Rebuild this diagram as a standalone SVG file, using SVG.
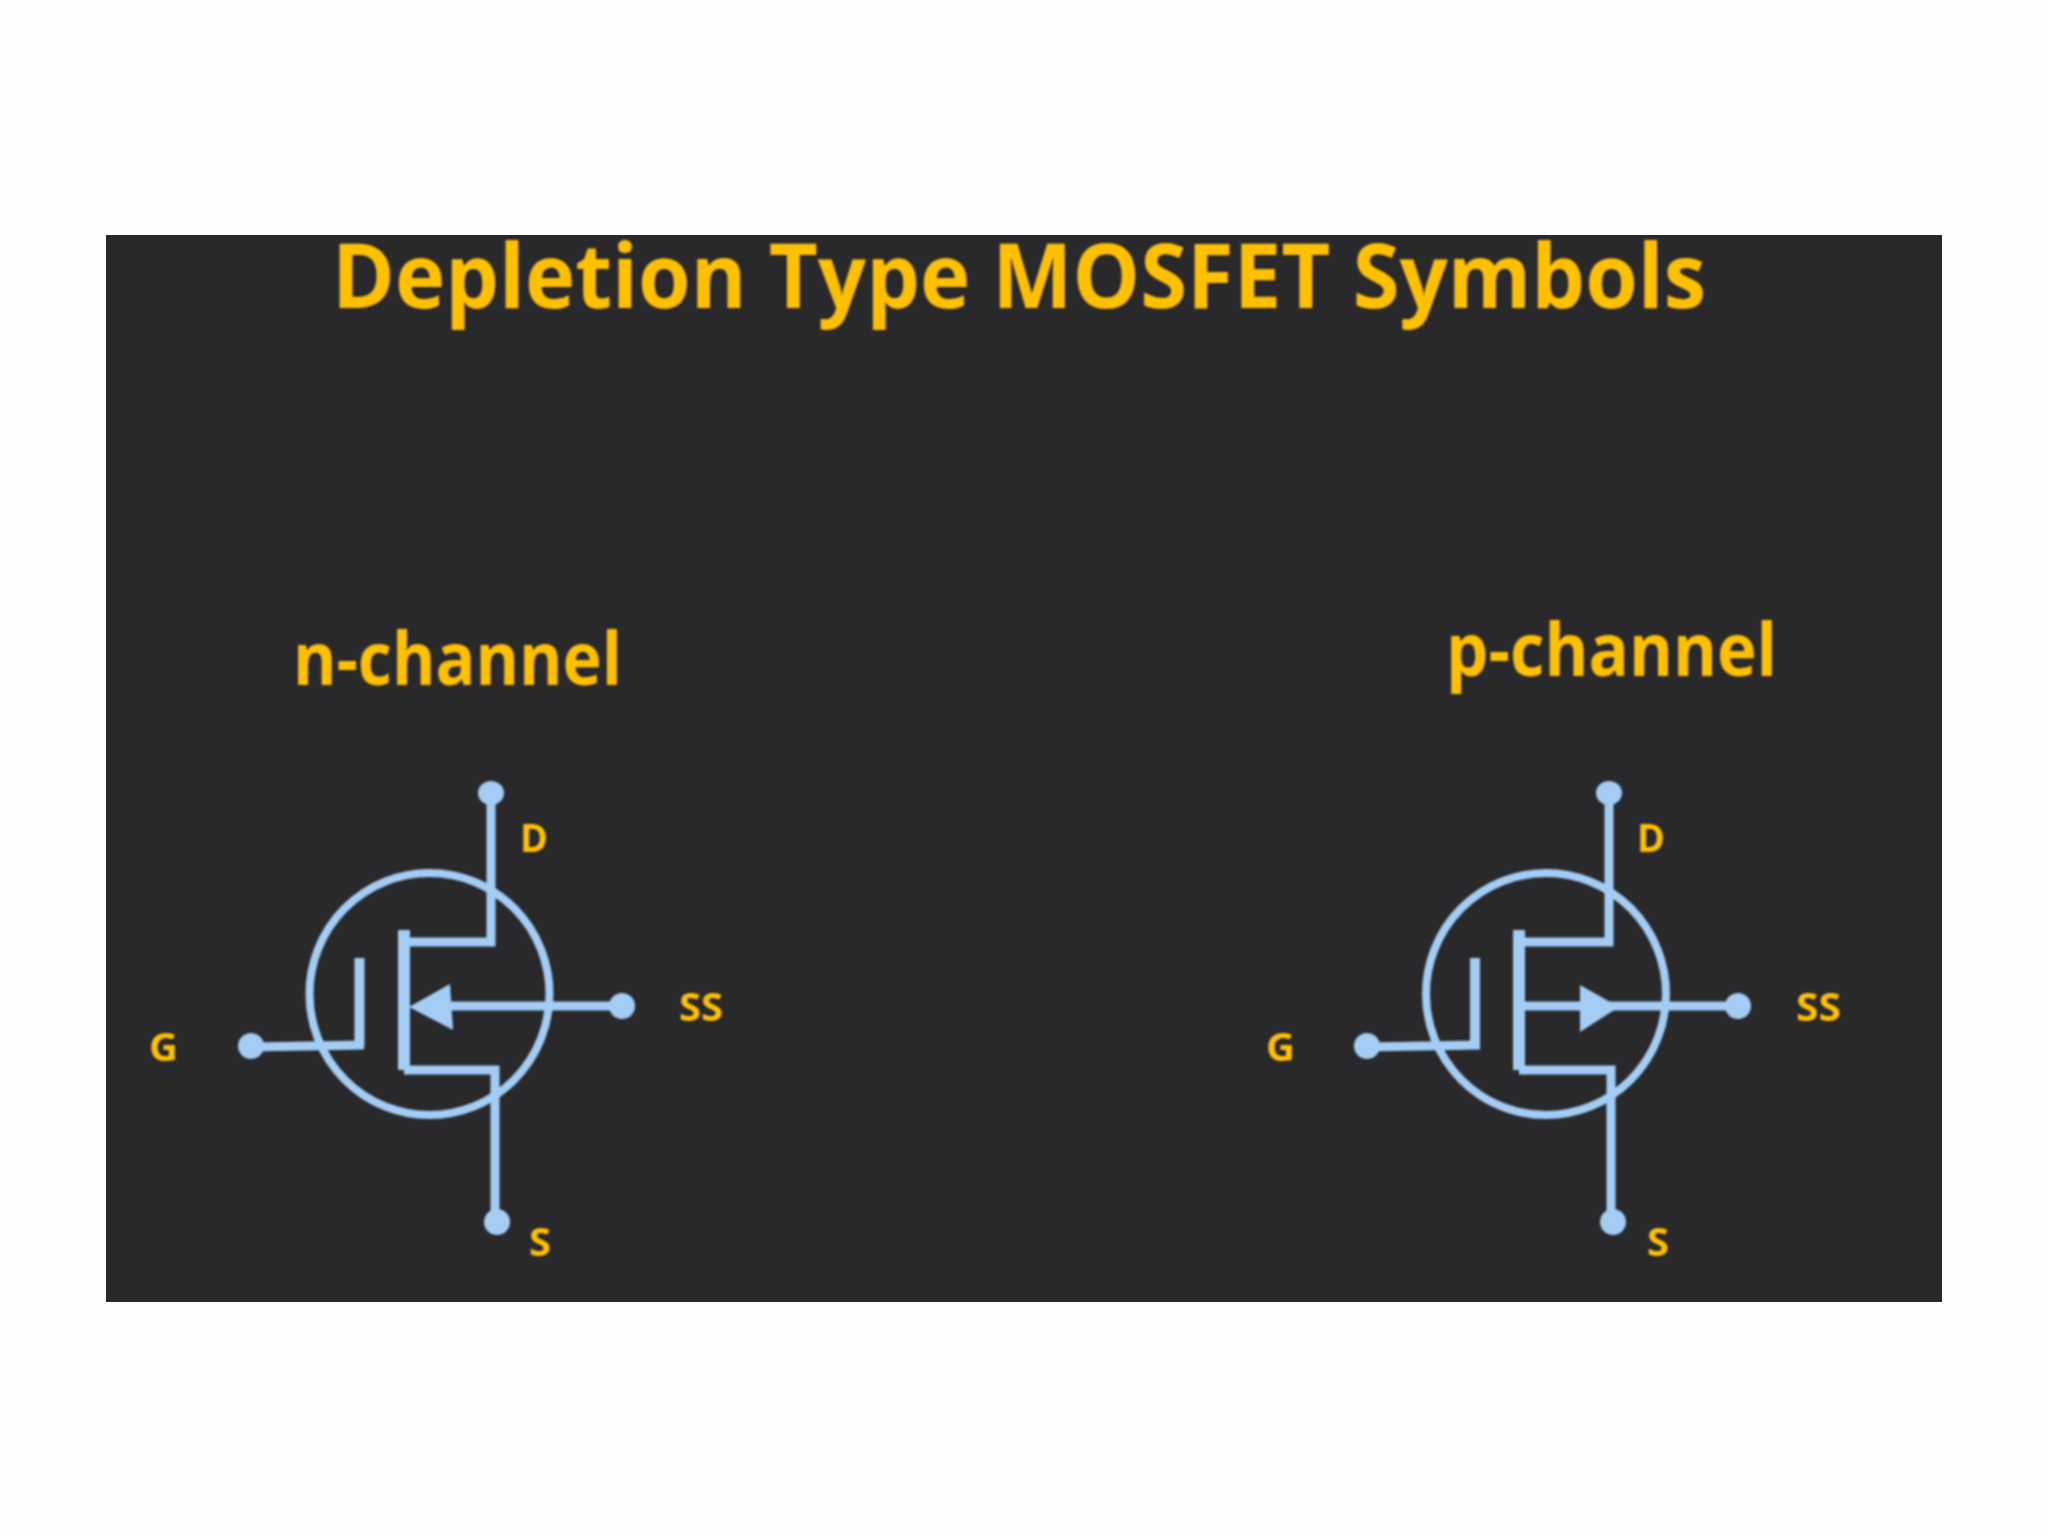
<svg xmlns="http://www.w3.org/2000/svg" width="2048" height="1536" viewBox="0 0 2048 1536">
<defs>
<filter id="soft" x="-5%" y="-5%" width="110%" height="110%"><feGaussianBlur stdDeviation="0.9"/></filter>
</defs>
<style>
text{font-family:"Open Sans","Liberation Sans",sans-serif;font-weight:700;fill:#FFC000}
.title{font-size:90px}
.sub{font-size:73px}
.pin{font-size:39px}
.w{fill:none;stroke:#A3CDF5;stroke-width:9;stroke-linejoin:miter}
.gate{fill:none;stroke:#A3CDF5;stroke-width:10}
.ch{fill:none;stroke:#A3CDF5;stroke-width:12}
.ring{fill:none;stroke:#A3CDF5;stroke-width:8}
.dot,.arrow{fill:#A3CDF5}
</style>
<rect width="2048" height="1536" fill="#FEFEFE"/>
<rect id="panel" x="106" y="235" width="1836" height="1067" fill="#29282A"/>
<g id="labels" filter="url(#soft)">
<text class="title" x="332" y="308" textLength="1374" lengthAdjust="spacingAndGlyphs">Depletion Type MOSFET Symbols</text>
<text class="sub" x="293" y="685" textLength="329" lengthAdjust="spacingAndGlyphs">n-channel</text>
<text class="sub" x="1446" y="676" textLength="331" lengthAdjust="spacingAndGlyphs">p-channel</text>
</g>
<g filter="url(#soft)">
<g id="n-channel-symbol">
<ellipse class="ring" cx="429.500" cy="994" rx="120" ry="121"/>
<path class="ch" d="M404 930V1070"/>
<path class="gate" d="M359.500 958V1046"/>
<path class="arrow" d="M409 1007L450 984L453 1030Z"/>
</g>
<g id="n-pins">
<ellipse id="n-D" class="dot" cx="491" cy="793" rx="13" ry="12"/>
<ellipse id="n-S" class="dot" cx="497" cy="1222" rx="13" ry="13"/>
<ellipse id="n-G" class="dot" cx="251" cy="1046" rx="13" ry="13"/>
<ellipse id="n-SS" class="dot" cx="622" cy="1006" rx="13" ry="13"/>
<text class="pin" x="520" y="852" textLength="28" lengthAdjust="spacingAndGlyphs">D</text>
<text class="pin" x="679" y="1021" textLength="44" lengthAdjust="spacingAndGlyphs">SS</text>
<text class="pin" x="149" y="1061" textLength="29" lengthAdjust="spacingAndGlyphs">G</text>
<text class="pin" x="529" y="1256" textLength="22" lengthAdjust="spacingAndGlyphs">S</text>
</g>
<g id="p-channel-symbol">
<ellipse class="ring" cx="1546" cy="994" rx="120" ry="121"/>
<path class="ch" d="M1519 930V1070"/>
<path class="gate" d="M1475 958V1046"/>
<path class="arrow" d="M1580 985L1619 1007L1580 1032Z"/>
</g>
<g id="p-pins">
<ellipse id="p-D" class="dot" cx="1609" cy="793" rx="13" ry="12"/>
<ellipse id="p-S" class="dot" cx="1613" cy="1222" rx="13" ry="13"/>
<ellipse id="p-G" class="dot" cx="1367" cy="1046" rx="13" ry="13"/>
<ellipse id="p-SS" class="dot" cx="1738" cy="1006" rx="13" ry="13"/>
<text class="pin" x="1637" y="852" textLength="28" lengthAdjust="spacingAndGlyphs">D</text>
<text class="pin" x="1796" y="1021" textLength="45" lengthAdjust="spacingAndGlyphs">SS</text>
<text class="pin" x="1266" y="1061" textLength="29" lengthAdjust="spacingAndGlyphs">G</text>
<text class="pin" x="1647" y="1256" textLength="22" lengthAdjust="spacingAndGlyphs">S</text>
</g>
<g id="connectors">
<path class="w" d="M491 793V942H404"/>
<path class="w" d="M404 1070H495V1222"/>
<path class="w" d="M251 1047L364 1045"/>
<path class="w" d="M622 1006H445"/>
<path class="w" d="M1609 793V942H1519"/>
<path class="w" d="M1519 1070H1611V1222"/>
<path class="w" d="M1367 1047L1480 1045"/>
<path class="w" d="M1519 1006H1738"/>
</g>
</g>
</svg>
